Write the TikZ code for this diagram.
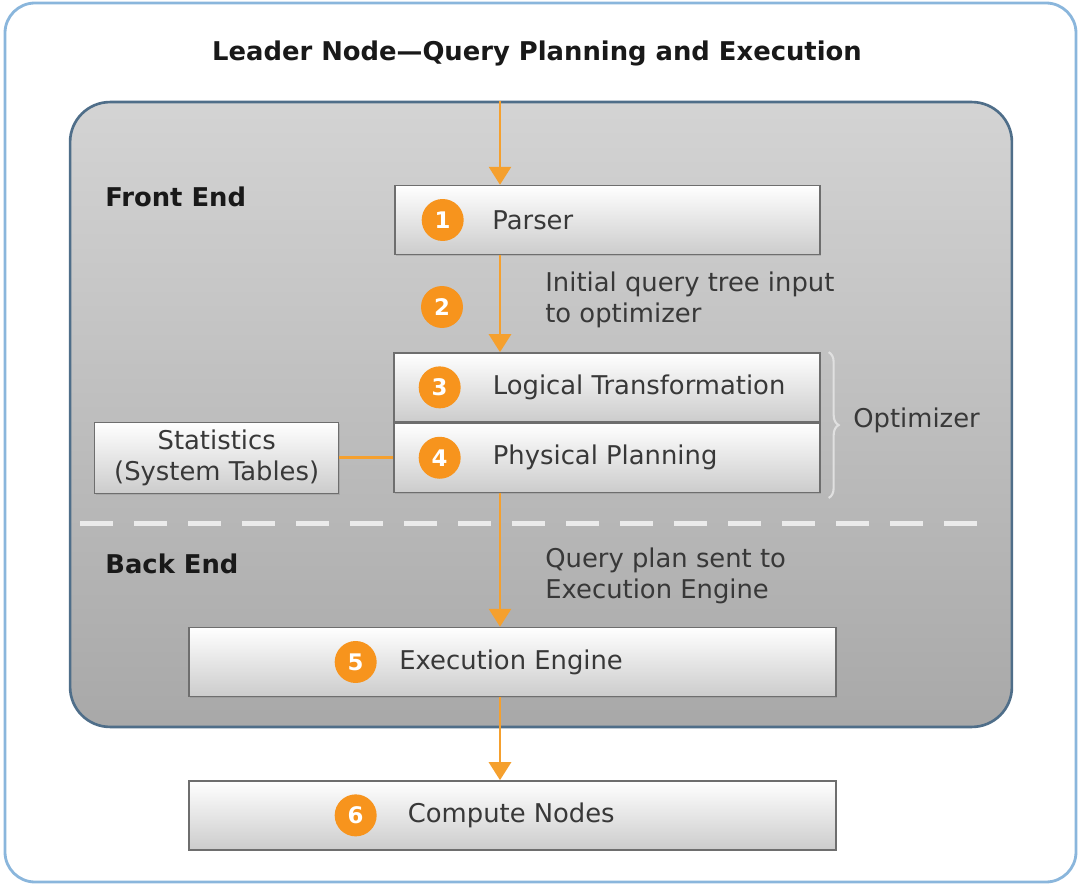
\documentclass[tikz,border=0pt]{standalone}
\usepackage{fontspec}
\setmainfont{DejaVu Sans}
\usepackage{xcolor}
\usepackage{tikz}
\usetikzlibrary{shapes, arrows.meta, positioning, shadows, calc, decorations.pathreplacing}

\definecolor{flowOrange}{HTML}{F5A02E}
\definecolor{badgeOrange}{HTML}{F7941D}
\definecolor{frameBlue}{HTML}{8AB6DC}
\definecolor{panelEdge}{HTML}{4F6E89}
\definecolor{boxEdge}{HTML}{6E6E6E}
\definecolor{inkGray}{HTML}{383838}

\begin{document}
\begin{tikzpicture}[
    x=0.02cm, y=-0.02cm,
    font=\fontsize{14.7}{17.6}\selectfont,
    text=inkGray,
    block/.style={
        rectangle,
        draw=boxEdge,
        line width=0.8pt,
        top color=white,
        bottom color=black!20,
        minimum height=1.38cm,
        drop shadow={shadow xshift=0.8pt, shadow yshift=-0.8pt, opacity=0.3}
    },
    panel/.style={
        rectangle,
        draw=panelEdge,
        line width=1.5pt,
        rounded corners=0.8cm,
        top color=black!17,
        bottom color=black!34,
        minimum width=18.84cm,
        minimum height=12.5cm
    },
    badge/.style={
        circle,
        fill=badgeOrange,
        text=white,
        font=\fontsize{13}{13}\selectfont\bfseries,
        minimum size=0.84cm,
        inner sep=0pt
    },
    caption/.style={inner sep=0pt, align=left},
    heading/.style={inner sep=0pt, text=black!90, font=\fontsize{14.7}{17.6}\selectfont\bfseries},
    divider/.style={draw=white!92!black, line width=0.1cm, dash pattern=on 0.66cm off 0.42cm},
    brace/.style={decorate, decoration={brace, amplitude=0.2cm}, draw=white!88!black, line width=1.2pt},
    line/.style={
        draw=flowOrange,
        line width=1.6pt,
        -{Triangle[width=0.44cm, length=0.36cm]}
    },
    link/.style={draw=flowOrange, line width=1.6pt}
]
\useasboundingbox (0,0) rectangle (1080,885);
\draw [draw=frameBlue, line width=1.6pt, fill=white, rounded corners=0.6cm] (5,3) rectangle (1076,882);

% Nodes
\node [heading] (title) at (537,53) {Leader Node—Query Planning and Execution};
\node [panel] (leader) at (541,414.5) {};
\coordinate (spine) at (500,0);

\node [heading, anchor=west] (frontEnd) at (105,197) {Front End};
\node [heading, anchor=west] (backEnd) at (105,564) {Back End};

\node [block, minimum width=8.5cm] (parser) at (607.5,220) {};
\node [block, minimum width=8.52cm, below=1.94cm of parser.south east, anchor=north east] (logical) {};
\node [block, minimum width=8.52cm, below=0cm of logical] (physical) {};
\node [block, minimum width=4.88cm, minimum height=1.42cm, align=center, left=1.08cm of physical] (stats) {Statistics\\(System Tables)};
\node [block, minimum width=12.94cm] (exec) at (512.5,662) {};
\node [block, minimum width=12.94cm, below=1.66cm of exec] (compute) {};

\node [badge, right=0.54cm of parser.west] (b1) {1};
\node [caption, right=0.56cm of b1] (t1) {Parser};
\node [badge] (b2) at (442,307) {2};
\node [caption, anchor=west] (treeNote) at (545,300) {Initial query tree input\\to optimizer};
\node [badge, right=0.5cm of logical.west] (b3) {3};
\node [caption, right=0.63cm of b3] (t3) {Logical Transformation};
\node [badge, right=0.5cm of physical.west] (b4) {4};
\node [caption, right=0.63cm of b4] (t4) {Physical Planning};
\node [badge, right=2.92cm of exec.west] (b5) {5};
\node [caption, right=0.44cm of b5] (t5) {Execution Engine};
\node [badge, right=2.92cm of compute.west] (b6) {6};
\node [caption, right=0.61cm of b6] (t6) {Compute Nodes};

\node [caption, anchor=west] (optLabel) at (853,420) {Optimizer};
\node [caption, anchor=west] (planNote) at (545,575.5) {Query plan sent to\\Execution Engine};

\draw [divider] (80,524) -- (978,524);
\draw [brace] ($(logical.north east)+(8,0)$) -- ($(physical.south east)+(8,5)$);

% Paths
\path [line] (leader.north -| spine) -- (parser.north -| spine);
\path [line] (parser.south -| spine) -- (logical.north -| spine);
\path [line] (physical.south -| spine) -- (exec.north -| spine);
\path [line] (exec.south -| spine) -- (compute.north -| spine);
\path [link] (stats) -- (physical);

\end{tikzpicture}
\end{document}
